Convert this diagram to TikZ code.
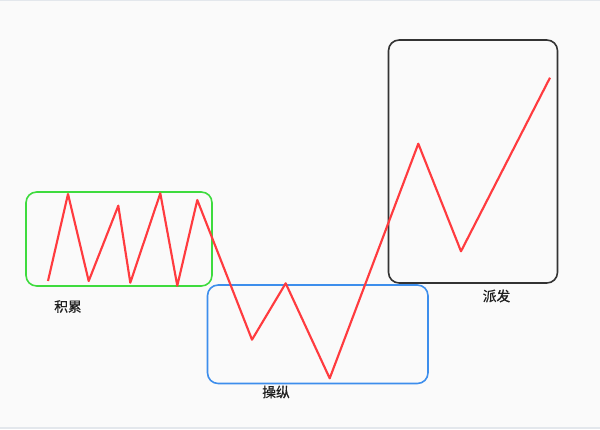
\documentclass[tikz,border=0pt]{standalone}
\usepackage{fontspec}
\newfontfamily\cjk[FakeBold=0.8]{Noto Sans CJK SC}
\usepackage{tikz}
\definecolor{bg}{HTML}{FAFAFA}
\definecolor{edge}{HTML}{E3E7EC}
\definecolor{boxgreen}{HTML}{3EDB3E}
\definecolor{boxblue}{HTML}{3D8EEC}
\definecolor{boxblack}{HTML}{333333}
\definecolor{price}{HTML}{FF3B3F}
\begin{document}
\begin{tikzpicture}[x=0.75pt,y=-0.75pt,
  phase/.style={line width=1.2pt, rounded corners=8pt},
  tag/.style={font=\cjk\fontsize{10.3}{12}\selectfont, text=black!88}]
\fill [bg] (0,0) rectangle (600,429);
\useasboundingbox (0,0) rectangle (600,429);
\draw [edge, line width=1pt] (0,0.5) -- (600,0.5);
\draw [edge, line width=1.2pt] (0,428.2) -- (600,428.2);
% boxes
\draw [phase, boxgreen] (26,192) rectangle (212,286);
\draw [phase, boxblue] (207.5,285) rectangle (428,383.5);
\draw [phase, boxblack] (388.5,40) rectangle (557.5,283);
% labels
\node [tag] (jilei) at (68,306.5) {积累};
\node [tag] (caozong) at (276,392) {操纵};
\node [tag] (paifa) at (496.5,296) {派发};
% price path
\draw [price, line width=1.6pt, line join=round]
  (48,281) -- (68,194) -- (88.7,281) -- (118.3,205.7) -- (130.3,282.7)
  -- (160.3,193.3) -- (177.3,285.7) -- (197.3,200) -- (252,339.7)
  -- (285.7,283.3) -- (329.7,378.3) -- (418.3,143.7) -- (461,251.3)
  -- (550,77.7);
\end{tikzpicture}
\end{document}
